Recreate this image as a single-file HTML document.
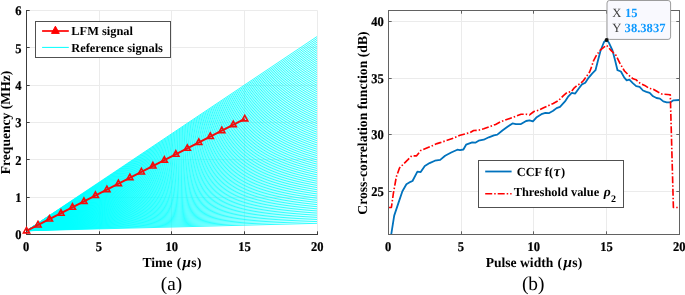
<!DOCTYPE html>
<html><head><meta charset="utf-8"><title>Figure</title>
<style>html,body{margin:0;padding:0;background:#fff}svg{display:block}</style>
</head><body>
<svg width="685" height="295" viewBox="0 0 685 295" text-rendering="geometricPrecision">
<rect width="685" height="295" fill="#fff"/>
<path d="M99.5 10.5V234.5M171.5 10.5V234.5M244.5 10.5V234.5M26.5 197.5H317.5M26.5 159.5H317.5M26.5 122.5H317.5M26.5 85.5H317.5M26.5 47.5H317.5" stroke="#ebebeb" stroke-width="1" fill="none"/>
<path d="M26.50 230.77L317.50 223.30M26.50 230.77L317.50 221.41M26.50 230.77L317.50 219.52M26.50 230.77L317.50 217.63M26.50 230.77L317.50 215.74M26.50 230.77L317.50 213.85M26.50 230.77L317.50 211.96M26.50 230.77L317.50 210.07M26.50 230.77L317.50 208.19M26.50 230.77L317.50 206.30M26.50 230.77L317.50 204.41M26.50 230.77L317.50 202.52M26.50 230.77L317.50 200.63M26.50 230.77L317.50 198.74M26.50 230.77L317.50 196.85M26.50 230.77L317.50 194.96M26.50 230.77L317.50 193.07M26.50 230.77L317.50 191.18M26.50 230.77L317.50 189.29M26.50 230.77L317.50 187.40M26.50 230.77L317.50 185.51M26.50 230.77L317.50 183.62M26.50 230.77L317.50 181.74M26.50 230.77L317.50 179.85M26.50 230.77L317.50 177.96M26.50 230.77L317.50 176.07M26.50 230.77L317.50 174.18M26.50 230.77L317.50 172.29M26.50 230.77L317.50 170.40M26.50 230.77L317.50 168.51M26.50 230.77L317.50 166.62M26.50 230.77L317.50 164.73M26.50 230.77L317.50 162.84M26.50 230.77L317.50 160.95M26.50 230.77L317.50 159.06M26.50 230.77L317.50 157.17M26.50 230.77L317.50 155.29M26.50 230.77L317.50 153.40M26.50 230.77L317.50 151.51M26.50 230.77L317.50 149.62M26.50 230.77L317.50 147.73M26.50 230.77L317.50 145.84M26.50 230.77L317.50 143.95M26.50 230.77L317.50 142.06M26.50 230.77L317.50 140.17M26.50 230.77L317.50 138.28M26.50 230.77L317.50 136.39M26.50 230.77L317.50 134.50M26.50 230.77L317.50 132.61M26.50 230.77L317.50 130.72M26.50 230.77L317.50 128.84M26.50 230.77L317.50 126.95M26.50 230.77L317.50 125.06M26.50 230.77L317.50 123.17M26.50 230.77L317.50 121.28M26.50 230.77L317.50 119.39M26.50 230.77L317.50 117.50M26.50 230.77L317.50 115.61M26.50 230.77L317.50 113.72M26.50 230.77L317.50 111.83M26.50 230.77L317.50 109.94M26.50 230.77L317.50 108.05M26.50 230.77L317.50 106.16M26.50 230.77L317.50 104.27M26.50 230.77L317.50 102.39M26.50 230.77L317.50 100.50M26.50 230.77L317.50 98.61M26.50 230.77L317.50 96.72M26.50 230.77L317.50 94.83M26.50 230.77L317.50 92.94M26.50 230.77L317.50 91.05M26.50 230.77L317.50 89.16M26.50 230.77L317.50 87.27M26.50 230.77L317.50 85.38M26.50 230.77L317.50 83.49M26.50 230.77L317.50 81.60M26.50 230.77L317.50 79.71M26.50 230.77L317.50 77.82M26.50 230.77L317.50 75.94M26.50 230.77L317.50 74.05M26.50 230.77L317.50 72.16M26.50 230.77L317.50 70.27M26.50 230.77L317.50 68.38M26.50 230.77L317.50 66.49M26.50 230.77L317.50 64.60M26.50 230.77L317.50 62.71M26.50 230.77L317.50 60.82M26.50 230.77L317.50 58.93M26.50 230.77L317.50 57.04M26.50 230.77L317.50 55.15M26.50 230.77L317.50 53.26M26.50 230.77L317.50 51.37M26.50 230.77L317.50 49.49M26.50 230.77L317.50 47.60M26.50 230.77L317.50 45.71M26.50 230.77L317.50 43.82M26.50 230.77L317.50 41.93M26.50 230.77L317.50 40.04M26.50 230.77L317.50 38.15M26.50 230.77L317.50 36.26" stroke="#00ffff" stroke-width="0.82" fill="none"/>
<path d="M26.5 10.5H317.5V234.5" fill="none" stroke="#ebebeb" stroke-width="1"/>
<path d="M26.5 234.5v-3.2M99.5 234.5v-3.2M171.5 234.5v-3.2M244.5 234.5v-3.2M317.5 234.5v-3.2M26.5 234.5h3.2M26.5 197.5h3.2M26.5 159.5h3.2M26.5 122.5h3.2M26.5 85.5h3.2M26.5 47.5h3.2M26.5 10.5h3.2" stroke="#3c3c3c" stroke-width="1" fill="none"/>
<path d="M26.5 10.0V234.5H318.0" fill="none" stroke="#3c3c3c" stroke-width="1"/>
<path d="M26.50 230.77L244.75 118.77" stroke="#f20d0d" stroke-width="2" fill="none"/>
<path d="M23.40 232.87L29.60 232.87L26.50 227.27ZM34.89 226.97L41.09 226.97L37.99 221.37ZM46.37 221.08L52.57 221.08L49.47 215.48ZM57.86 215.18L64.06 215.18L60.96 209.58ZM69.35 209.29L75.55 209.29L72.45 203.69ZM80.83 203.39L87.03 203.39L83.93 197.79ZM92.32 197.50L98.52 197.50L95.42 191.90ZM103.81 191.60L110.01 191.60L106.91 186.00ZM115.29 185.71L121.49 185.71L118.39 180.11ZM126.78 179.81L132.98 179.81L129.88 174.21ZM138.27 173.92L144.47 173.92L141.37 168.32ZM149.76 168.02L155.96 168.02L152.86 162.42ZM161.24 162.13L167.44 162.13L164.34 156.53ZM172.73 156.24L178.93 156.24L175.83 150.64ZM184.22 150.34L190.42 150.34L187.32 144.74ZM195.70 144.45L201.90 144.45L198.80 138.85ZM207.19 138.55L213.39 138.55L210.29 132.95ZM218.68 132.66L224.88 132.66L221.78 127.06ZM230.16 126.76L236.36 126.76L233.26 121.16ZM241.65 120.87L247.85 120.87L244.75 115.27Z" stroke="#f20d0d" stroke-width="1.55" fill="none" stroke-linejoin="miter"/>
<text transform="translate(26.20,250.7) scale(1,1.06)" text-anchor="middle" font-family="Liberation Serif, serif" font-weight="bold" stroke="#000" stroke-width="0.22" font-size="12.5">0</text>
<text transform="translate(98.95,250.7) scale(1,1.06)" text-anchor="middle" font-family="Liberation Serif, serif" font-weight="bold" stroke="#000" stroke-width="0.22" font-size="12.5">5</text>
<text transform="translate(171.70,250.7) scale(1,1.06)" text-anchor="middle" font-family="Liberation Serif, serif" font-weight="bold" stroke="#000" stroke-width="0.22" font-size="12.5">10</text>
<text transform="translate(244.45,250.7) scale(1,1.06)" text-anchor="middle" font-family="Liberation Serif, serif" font-weight="bold" stroke="#000" stroke-width="0.22" font-size="12.5">15</text>
<text transform="translate(317.20,250.7) scale(1,1.06)" text-anchor="middle" font-family="Liberation Serif, serif" font-weight="bold" stroke="#000" stroke-width="0.22" font-size="12.5">20</text>
<text transform="translate(21.6,239.20) scale(1,1.06)" text-anchor="end" font-family="Liberation Serif, serif" font-weight="bold" stroke="#000" stroke-width="0.22" font-size="12.5">0</text>
<text transform="translate(21.6,201.87) scale(1,1.06)" text-anchor="end" font-family="Liberation Serif, serif" font-weight="bold" stroke="#000" stroke-width="0.22" font-size="12.5">1</text>
<text transform="translate(21.6,164.53) scale(1,1.06)" text-anchor="end" font-family="Liberation Serif, serif" font-weight="bold" stroke="#000" stroke-width="0.22" font-size="12.5">2</text>
<text transform="translate(21.6,127.20) scale(1,1.06)" text-anchor="end" font-family="Liberation Serif, serif" font-weight="bold" stroke="#000" stroke-width="0.22" font-size="12.5">3</text>
<text transform="translate(21.6,89.87) scale(1,1.06)" text-anchor="end" font-family="Liberation Serif, serif" font-weight="bold" stroke="#000" stroke-width="0.22" font-size="12.5">4</text>
<text transform="translate(21.6,52.53) scale(1,1.06)" text-anchor="end" font-family="Liberation Serif, serif" font-weight="bold" stroke="#000" stroke-width="0.22" font-size="12.5">5</text>
<text transform="translate(21.6,15.20) scale(1,1.06)" text-anchor="end" font-family="Liberation Serif, serif" font-weight="bold" stroke="#000" stroke-width="0.22" font-size="12.5">6</text>
<text x="172.00" y="267" text-anchor="middle" font-family="Liberation Serif, serif" font-weight="bold" font-size="13.6">Time<tspan dx="0.8"> (</tspan><tspan font-style="italic" font-size="15.2" dx="1.4">μ</tspan><tspan dx="0.3">s</tspan><tspan dx="0.3">)</tspan></text>
<text transform="translate(10,122.50) rotate(-90)" text-anchor="middle" font-family="Liberation Serif, serif" font-weight="bold" font-size="13.6">Frequency (MHz)</text>
<text x="171.40" y="290.1" text-anchor="middle" font-family="Liberation Serif, serif" font-size="19.2">(a)</text>
<rect x="35.5" y="21.5" width="135" height="36" fill="#fff" stroke="#505050" stroke-width="1"/>
<path d="M42.1 31H68.8" stroke="#ff0000" stroke-width="1.7"/>
<path d="M51.5 33.4L59.3 33.4L55.4 26.2Z" fill="#ff0000" stroke="#ff0000" stroke-width="1"/>
<path d="M42.1 47.4H68.8" stroke="#00ffff" stroke-width="1"/>
<text x="71.3" y="35.3" font-family="Liberation Serif, serif" font-weight="bold" font-size="12.4">LFM signal</text>
<text x="71.3" y="51.9" font-family="Liberation Serif, serif" font-weight="bold" font-size="12.4">Reference signals</text>
<path d="M461.5 10.5V234.5M533.5 10.5V234.5M606.5 10.5V234.5M388.5 191.5H679.5M388.5 134.5H679.5M388.5 78.5H679.5M388.5 21.5H679.5" stroke="#ebebeb" stroke-width="1" fill="none"/>
<clipPath id="rc"><rect x="388.5" y="10.5" width="291.0" height="224.0"/></clipPath>
<g clip-path="url(#rc)">
<path d="M391.0 235.9L394.2 215.6L398.3 203.4L402.4 191.2L406.4 184.3L410.5 181.8L412.5 181.0L417.4 171.7L420.7 172.1L424.8 166.0L429.6 163.1L434.9 160.7L440.2 159.9L445.1 155.8L451.2 152.5L457.3 149.7L460.0 150.2L463.4 149.5L466.1 144.7L469.5 143.4L472.2 142.4L475.3 142.7L478.6 140.7L483.7 139.7L488.8 137.3L493.9 135.3L497.3 134.6L502.4 130.5L507.5 126.8L512.5 123.4L515.9 124.1L521.0 124.1L526.1 121.0L529.5 120.3L532.9 121.4L536.3 117.6L541.4 114.2L545.4 112.9L548.8 113.2L553.2 110.8L556.6 108.1L560.0 106.8L565.0 101.4L568.4 96.3L571.8 92.9L575.2 93.6L578.6 88.8L581.9 84.4L585.3 82.7L588.7 77.6L592.1 73.6L595.5 70.2L597.9 60.7L600.6 50.5L604.0 42.0L606.7 39.7L609.1 43.1L612.5 50.5L615.2 60.7L617.5 70.2L620.9 71.5L624.3 77.6L626.7 80.3L629.4 79.7L632.8 83.1L636.2 86.1L639.6 86.8L643.0 90.5L646.4 91.9L649.7 92.9L653.1 96.3L656.5 98.0L659.9 98.6L663.3 101.4L666.7 102.4L670.1 102.4L673.5 100.3L679.4 100.0" stroke="#0072bd" stroke-width="1.8" fill="none" stroke-linejoin="round"/>
<path d="M388.5 207.5L391.4 207.5L393.4 193.2L396.3 177.0L399.5 168.0L403.6 163.9L407.7 159.9L411.7 155.8L416.6 155.8L420.7 150.5L425.6 148.5L430.9 146.4L437.0 143.6L441.0 142.4L447.1 140.3L453.2 138.3L460.0 135.3L465.1 133.9L470.2 132.5L473.6 130.5L478.6 130.2L483.7 128.8L490.5 126.4L495.6 124.4L500.7 121.7L507.5 119.3L514.2 116.9L521.0 114.2L526.1 114.2L529.5 114.9L533.9 111.5L538.6 110.2L543.1 108.1L548.1 105.8L553.2 103.4L558.3 100.7L563.4 95.6L567.2 92.3L571.3 91.7L574.3 87.8L577.4 85.2L580.4 83.6L583.5 80.5L586.5 76.4L589.6 72.0L591.6 66.7L593.6 60.6L596.7 54.9L600.6 49.8L604.0 47.1L606.7 45.4L611.5 50.9L615.9 55.2L620.2 63.8L624.5 71.0L628.8 75.3L633.1 78.8L636.0 79.7L640.3 83.4L644.7 85.4L649.0 88.3L653.3 89.2L657.6 91.8L662.0 94.1L670.3 94.7L673.4 207.5L679.5 207.5" stroke="#ff0000" stroke-width="1.65" fill="none" stroke-dasharray="7 2 1.5 2" stroke-linejoin="round"/>
</g>
<path d="M388.5 234.5v-3.2M388.5 10.5v3.2M461.5 234.5v-3.2M461.5 10.5v3.2M533.5 234.5v-3.2M533.5 10.5v3.2M606.5 234.5v-3.2M606.5 10.5v3.2M679.5 234.5v-3.2M679.5 10.5v3.2M388.5 191.5h3.2M679.5 191.5h-3.2M388.5 134.5h3.2M679.5 134.5h-3.2M388.5 78.5h3.2M679.5 78.5h-3.2M388.5 21.5h3.2M679.5 21.5h-3.2" stroke="#626262" stroke-width="1" fill="none"/>
<rect x="388.5" y="10.5" width="291.00" height="224.00" fill="none" stroke="#626262" stroke-width="1"/>
<text transform="translate(388.20,250.7) scale(1,1.06)" text-anchor="middle" font-family="Liberation Serif, serif" font-weight="bold" stroke="#000" stroke-width="0.22" font-size="12.5">0</text>
<text transform="translate(460.95,250.7) scale(1,1.06)" text-anchor="middle" font-family="Liberation Serif, serif" font-weight="bold" stroke="#000" stroke-width="0.22" font-size="12.5">5</text>
<text transform="translate(533.70,250.7) scale(1,1.06)" text-anchor="middle" font-family="Liberation Serif, serif" font-weight="bold" stroke="#000" stroke-width="0.22" font-size="12.5">10</text>
<text transform="translate(606.45,250.7) scale(1,1.06)" text-anchor="middle" font-family="Liberation Serif, serif" font-weight="bold" stroke="#000" stroke-width="0.22" font-size="12.5">15</text>
<text transform="translate(679.20,250.7) scale(1,1.06)" text-anchor="middle" font-family="Liberation Serif, serif" font-weight="bold" stroke="#000" stroke-width="0.22" font-size="12.5">20</text>
<text transform="translate(383.8,195.90) scale(1,1.06)" text-anchor="end" font-family="Liberation Serif, serif" font-weight="bold" stroke="#000" stroke-width="0.22" font-size="12.5">25</text>
<text transform="translate(383.8,139.40) scale(1,1.06)" text-anchor="end" font-family="Liberation Serif, serif" font-weight="bold" stroke="#000" stroke-width="0.22" font-size="12.5">30</text>
<text transform="translate(383.8,82.90) scale(1,1.06)" text-anchor="end" font-family="Liberation Serif, serif" font-weight="bold" stroke="#000" stroke-width="0.22" font-size="12.5">35</text>
<text transform="translate(383.8,26.40) scale(1,1.06)" text-anchor="end" font-family="Liberation Serif, serif" font-weight="bold" stroke="#000" stroke-width="0.22" font-size="12.5">40</text>
<text x="534.00" y="267" text-anchor="middle" font-family="Liberation Serif, serif" font-weight="bold" font-size="13.6">Pulse width<tspan dx="0.8"> (</tspan><tspan font-style="italic" font-size="15.2" dx="1.4">μ</tspan><tspan dx="0.3">s</tspan><tspan dx="0.3">)</tspan></text>
<text transform="translate(367.2,123.10) rotate(-90)" text-anchor="middle" font-family="Liberation Serif, serif" font-weight="bold" font-size="13.68">Cross-correlation function (dB)</text>
<text x="533.20" y="289.8" text-anchor="middle" font-family="Liberation Serif, serif" font-size="19.4">(b)</text>
<rect x="478.5" y="160.5" width="145" height="47" fill="#fff" stroke="#505050" stroke-width="1"/>
<path d="M485.2 171.5H511.6" stroke="#0072bd" stroke-width="1.8"/>
<path d="M485.2 193.7H511.6" stroke="#ff0000" stroke-width="1.65" stroke-dasharray="7 2 1.5 2"/>
<text x="516.7" y="175.7" font-family="Liberation Serif, serif" font-weight="bold" font-size="12.4">CCF f(<tspan font-style="italic" font-size="14.5" dx="0.6">τ</tspan><tspan dx="0.8">)</tspan></text>
<text x="513.7" y="195.6" font-family="Liberation Serif, serif" font-weight="bold" font-size="12.4">Threshold value <tspan font-style="italic" font-size="13.6" dx="1.5">ρ</tspan><tspan dy="6.2" dx="0.3" font-size="10">2</tspan></text>
<rect x="607" y="0.5" width="63.6" height="38.9" rx="2.5" fill="#f9f9fe" stroke="#9c9c9c" stroke-width="1"/>
<text x="612.3" y="17" font-family="Liberation Serif, serif" font-size="12.6" fill="#404040">X <tspan font-weight="bold" fill="#0d99ff" dx="0.5">15</tspan></text>
<text x="612.3" y="31.9" font-family="Liberation Serif, serif" font-size="12.6" fill="#404040">Y <tspan font-weight="bold" fill="#0d99ff" dx="0.5">38.3837</tspan></text>
<circle cx="606.6" cy="39.9" r="2" fill="#111"/>
</svg>
</body></html>
